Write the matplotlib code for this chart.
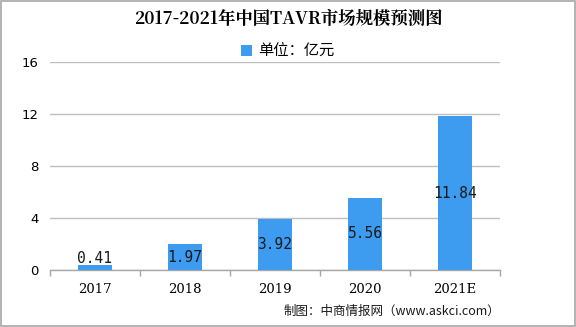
import matplotlib
matplotlib.use("Agg")
import matplotlib.pyplot as plt
from matplotlib.patches import Rectangle
import numpy as np

plt.rcParams['font.family'] = ['Noto Sans CJK SC', 'DejaVu Sans']

categories = ["2017", "2018", "2019", "2020", "2021E"]
values = [0.41, 1.97, 3.92, 5.56, 11.84]
yticks = [0, 4, 8, 12, 16]
title = "2017-2021年中国TAVR市场规模预测图"
legend_label = "单位：亿元"
source = "制图：中商情报网（www.askci.com）"

bar_color = "#3d9cf0"

fig = plt.figure(figsize=(5.76, 3.27), dpi=100)
ax = fig.add_axes([0.0868, 0.1743, 0.7813, 0.6361])

x = np.arange(len(categories))
ax.bar(x, values, width=0.37, color=bar_color, zorder=3, label=legend_label)

ax.set_xlim(-0.5, len(categories) - 0.5)
ax.set_ylim(0, 16)
ax.set_yticks(yticks)
ax.set_yticklabels([str(t) for t in yticks], fontsize=9.5, family=['DejaVu Sans'])
ax.yaxis.grid(True, color="#bfbfbf", linewidth=1, zorder=0)
ax.tick_params(axis='y', length=0, pad=8)

ax.set_xticks(x)
ax.set_xticklabels(categories, fontsize=9.5, family=['DejaVu Serif'])
ax.set_xticks(np.arange(len(categories) + 1) - 0.5, minor=True)
ax.tick_params(axis='x', which='major', length=0, pad=9)
ax.tick_params(axis='x', which='minor', length=4, color="#a6a6a6", width=1)

for s in ['top', 'right', 'left']:
    ax.spines[s].set_visible(False)
ax.spines['bottom'].set_color("#a6a6a6")
ax.spines['bottom'].set_linewidth(1)

for xi, v in zip(x, values):
    yl = max(v / 2, 0.9)
    ax.text(xi, yl, f"{v:.2f}", ha='center', va='center', fontsize=10.5,
            family=['DejaVu Sans Mono'], color="#1a1a1a", zorder=4)

fig.text(0.5, 0.942, title, ha='center', va='center', fontsize=12.5,
         fontweight='bold', family=['Noto Serif CJK SC', 'Noto Sans CJK SC', 'DejaVu Serif'])

leg = fig.legend(loc='center', bbox_to_anchor=(0.5, 0.842), frameon=False,
                 fontsize=11, handlelength=0.7, handleheight=0.7, handletextpad=0.4)

fig.text(0.868, 0.049, source, ha='right', va='center', fontsize=9, color="#1a1a1a")

border = Rectangle((0.001, 0.002), 0.997, 0.995, transform=fig.transFigure,
                   fill=False, edgecolor="#a6a6a6", linewidth=1.2)
fig.patches.append(border)

fig.savefig("out.png", dpi=100)
